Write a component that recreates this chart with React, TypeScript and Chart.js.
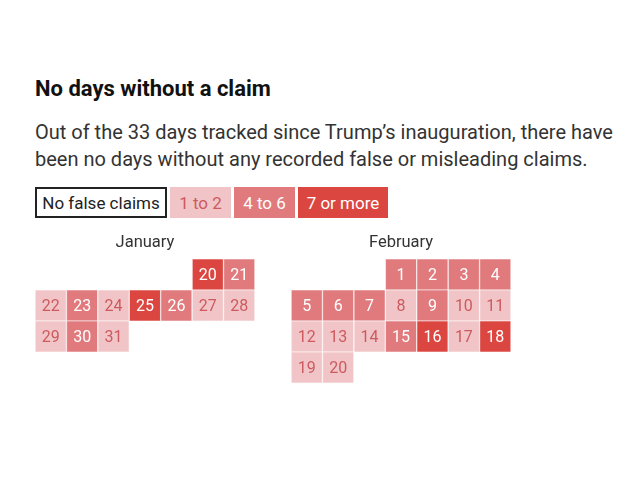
import React, { useEffect, useRef } from "react";
import { Chart, registerables } from "chart.js";

Chart.register(...registerables);

// ---- Data ----
const janDays = [20, 21, 22, 23, 24, 25, 26, 27, 28, 29, 30, 31];
const janClaims = [8, 5, 2, 5, 2, 9, 5, 2, 2, 2, 5, 2];
const febDays = [1, 2, 3, 4, 5, 6, 7, 8, 9, 10, 11, 12, 13, 14, 15, 16, 17, 18, 19, 20];
const febClaims = [5, 5, 5, 5, 5, 5, 5, 2, 5, 2, 2, 2, 2, 2, 6, 8, 2, 8, 2, 2];
const monthNames = ["January", "February"];
const legendLabels = ["No false claims", "1 to 2", "4 to 6", "7 or more"];

// ---- Styling ----
const COLORS = ["#ffffff", "#f1c5c7", "#e07a7d", "#db4641"];
const TEXT_COLORS = ["#222222", "#cc5a5e", "#ffffff", "#ffffff"];
const FONT = "Roboto, 'Liberation Sans', sans-serif";
const FEB_OFFSET = 8.15;
const X_MAX = FEB_OFFSET + 7;

function bin(v: number) {
  if (v <= 0) return 0;
  if (v <= 2) return 1;
  if (v <= 6) return 2;
  return 3;
}

// calendar position: Jan 1 2017 was a Sunday, Feb 1 2017 a Wednesday
const janPoints = janDays.map((d) => ({ x: ((d - 1) % 7) + 0.5, y: Math.floor((d - 1) / 7) - 2 + 0.5 }));
const febPoints = febDays.map((d) => ({ x: FEB_OFFSET + ((d + 2) % 7) + 0.5, y: Math.floor((d + 2) / 7) + 0.5 }));

const CELL = 31;

const cellLabels = {
  id: "cellLabels",
  afterDatasetsDraw(chart: any) {
    const ctx = chart.ctx;
    ctx.save();
    ctx.font = `16px ${FONT}`;
    ctx.textAlign = "center";
    ctx.textBaseline = "middle";
    chart.data.datasets.forEach((ds: any, di: number) => {
      const meta = chart.getDatasetMeta(di);
      meta.data.forEach((el: any, i: number) => {
        ctx.fillStyle = TEXT_COLORS[bin(ds.claims[i])];
        ctx.fillText(String(ds.days[i]), el.x, el.y + 1);
      });
    });
    // month labels
    const xs = chart.scales.x;
    const top = chart.chartArea.top;
    ctx.font = `16.5px ${FONT}`;
    ctx.fillStyle = "#333333";
    ctx.fillText(monthNames[0], xs.getPixelForValue(3.5), top - 16);
    ctx.fillText(monthNames[1], xs.getPixelForValue(FEB_OFFSET + 3.5), top - 16);
    ctx.restore();
  },
};

function CalendarChart() {
  const ref = useRef<HTMLCanvasElement | null>(null);
  useEffect(() => {
    if (!ref.current) return;
    const r = CELL / Math.SQRT2;
    const common = {
      pointStyle: "rect",
      pointRadius: r,
      pointHoverRadius: r,
      pointBorderColor: "rgba(255,255,255,0.55)",
      pointBorderWidth: 1,
      clip: false,
    };
    const chart = new Chart(ref.current, {
      type: "scatter",
      data: {
        datasets: [
          {
            ...common,
            data: janPoints,
            days: janDays,
            claims: janClaims,
            pointBackgroundColor: janClaims.map((v) => COLORS[bin(v)]),
          } as any,
          {
            ...common,
            data: febPoints,
            days: febDays,
            claims: febClaims,
            pointBackgroundColor: febClaims.map((v) => COLORS[bin(v)]),
          } as any,
        ],
      },
      options: {
        animation: false,
        responsive: false,
        events: [],
        layout: { autoPadding: false, padding: { top: 34, bottom: 0, left: 0, right: 0 } },
        plugins: { legend: { display: false }, tooltip: { enabled: false } },
        scales: {
          x: { type: "linear", min: 0, max: X_MAX, display: false },
          y: { type: "linear", min: 0, max: 4, reverse: true, display: false },
        },
      },
      plugins: [cellLabels],
    });
    return () => chart.destroy();
  }, []);
  return <canvas ref={ref} width={476} height={158} style={{ position: "absolute", left: 27, top: 217 }} />;
}

export default function App() {
  const legendBoxes = [
    { left: 27, width: 132 },
    { left: 162, width: 61 },
    { left: 226, width: 61 },
    { left: 290, width: 90 },
  ];
  return (
    <div style={{ position: "relative", width: 624, height: 463, fontFamily: FONT, background: "#fff" }}>
      <div style={{ position: "absolute", left: 27, top: 68, fontSize: 22, fontWeight: 700, color: "#111", whiteSpace: "nowrap" }}>
        No days without a claim
      </div>
      <div style={{ position: "absolute", left: 27, top: 111, width: 620, fontSize: 20, lineHeight: "27px", color: "#333", whiteSpace: "nowrap" }}>
        Out of the 33 days tracked since Trump’s inauguration, there have
        <br />
        been no days without any recorded false or misleading claims.
      </div>
      {legendLabels.map((lab, i) => (
        <div
          key={lab}
          style={{
            position: "absolute",
            left: legendBoxes[i].left,
            top: 179,
            width: legendBoxes[i].width,
            height: 31,
            boxSizing: "border-box",
            border: i === 0 ? "2px solid #222" : "none",
            background: COLORS[i],
            color: TEXT_COLORS[i],
            fontSize: 17,
            display: "flex",
            alignItems: "center",
            justifyContent: "center",
            whiteSpace: "nowrap",
          }}
        >
          {lab}
        </div>
      ))}
      <CalendarChart />
    </div>
  );
}
